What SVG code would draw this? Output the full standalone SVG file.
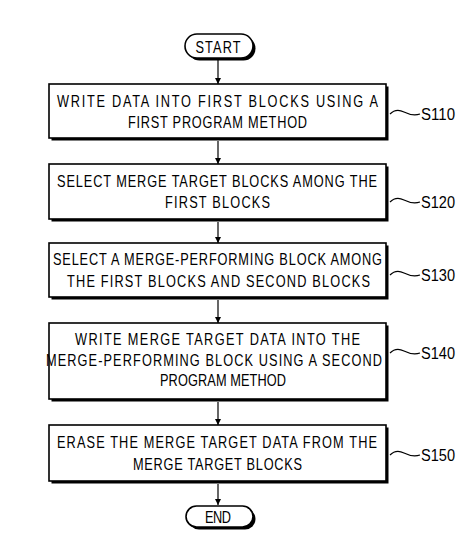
<svg xmlns="http://www.w3.org/2000/svg" width="474" height="550" viewBox="0 0 474 550">
<style>
.t{font-family:"Liberation Sans",Arial,sans-serif;font-size:17px;fill:#000;text-anchor:middle}
.lbl{font-family:"Liberation Sans",Arial,sans-serif;font-size:16px;fill:#000}
.sh{fill:#000}
.bx{fill:#fff;stroke:#000;stroke-width:1.6}
.c{stroke:#000;stroke-width:1.2;fill:none}
.tl{stroke:#000;stroke-width:1.2;fill:none}
</style>
<defs>
<marker id="ah" markerWidth="6" markerHeight="10" refX="6" refY="3" orient="auto" markerUnits="userSpaceOnUse">
<path d="M0,0 L6,3 L0,6 Z" fill="#000"/>
</marker>
</defs>
<rect width="474" height="550" fill="#fff"/>
<g id="connectors">
<line class="c" x1="218" y1="60" x2="218" y2="84" marker-end="url(#ah)"/>
<line class="c" x1="218" y1="141" x2="218" y2="164" marker-end="url(#ah)"/>
<line class="c" x1="218" y1="222" x2="218" y2="243" marker-end="url(#ah)"/>
<line class="c" x1="218" y1="300" x2="218" y2="323" marker-end="url(#ah)"/>
<line class="c" x1="218" y1="402" x2="218" y2="425" marker-end="url(#ah)"/>
<line class="c" x1="218" y1="484" x2="218" y2="505" marker-end="url(#ah)"/>
</g>
<g id="start">
<rect class="sh" x="187.5" y="36.5" width="68" height="24" rx="12"/>
<rect class="bx" x="185" y="34" width="68" height="24" rx="12"/>
<text class="t" transform="translate(218,52.5) scale(0.75,1)" textLength="60" lengthAdjust="spacing">START</text>
</g>
<g id="s110">
<rect class="sh" x="51.5" y="86.5" width="337" height="54"/>
<rect class="bx" x="49" y="84" width="337" height="54"/>
<text class="t" transform="translate(217.5,107) scale(0.75,1)" textLength="428" lengthAdjust="spacing">WRITE DATA INTO FIRST BLOCKS USING A</text>
<text class="t" transform="translate(217.5,128) scale(0.75,1)" textLength="238.7" lengthAdjust="spacing">FIRST PROGRAM METHOD</text>
<path class="tl" d="M390,114 C394,110 398,109 404,112 C410,115 414,116 420,114"/>
<text class="lbl" x="421" y="119.5" textLength="34" lengthAdjust="spacingAndGlyphs">S110</text>
</g>
<g id="s120">
<rect class="sh" x="51.5" y="166.5" width="337" height="55"/>
<rect class="bx" x="49" y="164" width="337" height="55"/>
<text class="t" transform="translate(217,187) scale(0.75,1)" textLength="426.7" lengthAdjust="spacing">SELECT MERGE TARGET BLOCKS AMONG THE</text>
<text class="t" transform="translate(217.5,208) scale(0.75,1)" textLength="140" lengthAdjust="spacing">FIRST BLOCKS</text>
<path class="tl" d="M390,202 C394,198 398,197 404,200 C410,203 414,204 420,202"/>
<text class="lbl" x="421" y="207.5" textLength="34" lengthAdjust="spacingAndGlyphs">S120</text>
</g>
<g id="s130">
<rect class="sh" x="51.5" y="245.5" width="337" height="54"/>
<rect class="bx" x="49" y="243" width="337" height="54"/>
<text class="t" transform="translate(217.5,265) scale(0.75,1)" textLength="438.7" lengthAdjust="spacing">SELECT A MERGE-PERFORMING BLOCK AMONG</text>
<text class="t" transform="translate(218.5,287) scale(0.75,1)" textLength="404" lengthAdjust="spacing">THE FIRST BLOCKS AND SECOND BLOCKS</text>
<path class="tl" d="M390,275 C394,271 398,270 404,273 C410,276 414,277 420,275"/>
<text class="lbl" x="421" y="280.5" textLength="34" lengthAdjust="spacingAndGlyphs">S130</text>
</g>
<g id="s140">
<rect class="sh" x="51.5" y="325.5" width="337" height="76"/>
<rect class="bx" x="49" y="323" width="337" height="76"/>
<text class="t" transform="translate(217.5,345) scale(0.75,1)" textLength="380" lengthAdjust="spacing">WRITE MERGE TARGET DATA INTO THE</text>
<text class="t" transform="translate(214,366) scale(0.75,1)" textLength="448" lengthAdjust="spacing">MERGE-PERFORMING BLOCK USING A SECOND</text>
<text class="t" transform="translate(223,386) scale(0.75,1)" textLength="168" lengthAdjust="spacing">PROGRAM METHOD</text>
<path class="tl" d="M390,353 C394,349 398,348 404,351 C410,354 414,355 420,353"/>
<text class="lbl" x="421" y="358.5" textLength="34" lengthAdjust="spacingAndGlyphs">S140</text>
</g>
<g id="s150">
<rect class="sh" x="51.5" y="427.5" width="337" height="56"/>
<rect class="bx" x="49" y="425" width="337" height="56"/>
<text class="t" transform="translate(217,448) scale(0.75,1)" textLength="426.7" lengthAdjust="spacing">ERASE THE MERGE TARGET DATA FROM THE</text>
<text class="t" transform="translate(217.5,470) scale(0.75,1)" textLength="225.3" lengthAdjust="spacing">MERGE TARGET BLOCKS</text>
<path class="tl" d="M390,455 C394,451 398,450 404,453 C410,456 414,457 420,455"/>
<text class="lbl" x="421" y="460.5" textLength="34" lengthAdjust="spacingAndGlyphs">S150</text>
</g>
<g id="end">
<rect class="sh" x="188.5" y="508.5" width="67" height="21" rx="10.5"/>
<rect class="bx" x="186" y="506" width="67" height="21" rx="10.5"/>
<text class="t" transform="translate(218,522.5) scale(0.75,1)" textLength="34.7" lengthAdjust="spacing">END</text>
</g>
</svg>
